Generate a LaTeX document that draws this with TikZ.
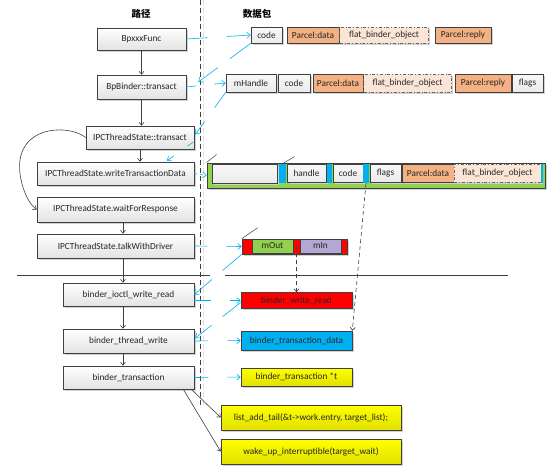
\documentclass[tikz,border=0pt]{standalone}
\usepackage{fontspec}
\setmainfont{Carlito}
\newfontfamily\cjkfont{Noto Sans CJK SC}
\usepackage{xcolor}
\usetikzlibrary{arrows.meta, positioning, calc, shadows}
\definecolor{linkcyan}{RGB}{0,176,240}
\definecolor{parcelor}{RGB}{244,177,131}
\definecolor{fbopeach}{RGB}{251,229,214}
\definecolor{limegr}{RGB}{146,208,80}
\definecolor{minpurp}{RGB}{180,167,214}
\definecolor{edge}{RGB}{64,64,64}

\begin{document}
\begin{tikzpicture}[x=1pt, y=-1pt,
  plain/.style={rectangle, draw=edge, line width=0.6pt, inner sep=0pt,
    font=\fontsize{9.3}{10}\selectfont, text=black!85},
  base/.style={plain, drop shadow={shadow xshift=1.5pt, shadow yshift=-1.5pt,
    fill=black!18, opacity=1}},
  fn/.style={base, top color=white, bottom color=gray!22},
  pk/.style={base, top color=gray!5, bottom color=gray!16},
  parcel/.style={base, fill=parcelor},
  fbo/.style={base, fill=fbopeach, draw=edge!80, dash dot},
  slot/.style={plain, draw=none, fill=linkcyan},
  call/.style={base, top color=yellow, bottom color=yellow!88!black},
  redbox/.style={base, fill=red},
  bluebox/.style={base, fill=linkcyan},
  ttl/.style={font=\cjkfont\bfseries\fontsize{9.5}{10}\selectfont},
  arr/.style={-{Straight Barb[length=3pt, width=5pt]}, edge, line width=0.6pt},
  darr/.style={arr, dash pattern=on 4pt off 3pt},
  flow/.style={-{Straight Barb[length=3.5pt, width=6pt]}, linkcyan, line width=0.6pt},
  tick/.style={edge, line width=0.5pt},
]
\fill[white] (0,0) rectangle (553,469);
\useasboundingbox (0,0) rectangle (553,469);
% ====== TITLES AND DIVIDERS ======
\node[ttl] (t_path) at (141,14) {路径};
\node[ttl] (t_pkg) at (257,14) {数据包};
\draw[gray!25, line width=0.8pt, dash pattern=on 5pt off 3pt] (203,0) -- (203,407);
\draw[edge, line width=0.7pt, dash pattern=on 5pt off 3pt] (200,0) -- (200,407);
\draw[edge, line width=0.7pt] (17,275) -- (210,275);
\draw[edge, line width=0.7pt] (225,275) -- (508,275);
%
% ====== CALL PATH (left) ======
\node[fn, minimum width=89, minimum height=22] (l_bpx) at (141.5,39) {BpxxxFunc};
\node[fn, minimum width=89, minimum height=24] (l_bpb) at (141.5,87) {BpBinder::transact};
\node[fn, minimum width=108, minimum height=23] (l_ipct) at (140,137.5) {IPCThreadState::transact};
\node[fn, minimum width=157, minimum height=23] (l_wtd) at (115.5,173.5) {IPCThreadState.writeTransactionData};
\node[fn, minimum width=157, minimum height=25] (l_wfr) at (115.5,209.5) {IPCThreadState.waitForResponse};
\node[fn, minimum width=157, minimum height=24] (l_twd) at (115.5,246) {IPCThreadState.talkWithDriver};
\node[fn, minimum width=131, minimum height=23] (l_ioctl) at (128.5,294.5) {binder\_ioctl\_write\_read};
\node[fn, minimum width=131, minimum height=24] (l_thw) at (128.5,341) {binder\_thread\_write};
\node[fn, minimum width=131, minimum height=23] (l_btr) at (128.5,377.5) {binder\_transaction};
\node[call, minimum width=180, minimum height=25] (l_lat) at (311,417.5)
  {list\_add\_tail(\&t->work.entry, target\_list);};
\node[call, minimum width=180, minimum height=25] (l_wui) at (311,451.5)
  {wake\_up\_interruptible(target\_wait)};
\draw[arr] (l_bpx) -- (l_bpb);
\draw[arr] (l_bpb.south) -- (l_bpb.south |- l_ipct.north);
\draw[arr] (l_ipct.south) -- (l_ipct.south |- l_wtd.north);
\draw[arr] (l_ipct.west) .. controls (70,125) and (25,125) .. (20,160)
  .. controls (17.5,177) and (26,202) .. (l_wfr.west);
\draw[arr] ([xshift=7.5pt]l_wfr.south) -- ([xshift=7.5pt]l_twd.north);
\draw[arr] ([xshift=7.5pt]l_twd.south) -- ([xshift=7.5pt]l_twd.south |- l_ioctl.north);
\draw[arr] ([xshift=-5.5pt]l_ioctl.south) -- ([xshift=-5.5pt]l_thw.north);
\draw[arr] ([xshift=-5.5pt]l_thw.south) -- ([xshift=-5.5pt]l_btr.north);
\draw[arr] ([xshift=-3pt]l_btr.south east) -- (l_lat.west);
\draw[arr] ([xshift=-11pt]l_btr.south east) -- (l_wui.west);
%
% ====== PACKETS (right) ======
\node[pk, minimum width=31, minimum height=16] (p1_code) at (266.5,35) {code};
\node[parcel, minimum width=52, minimum height=16] (p1_data) at (313,35) {Parcel:data};
\node[fbo, minimum width=89, minimum height=16, right=0pt of p1_data] (p1_fbo) {flat\_binder\_object};
\node[parcel, minimum width=56, minimum height=16] (p1_reply) at (463,35) {Parcel:reply};
%
\node[pk, minimum width=50, minimum height=18] (p2_hdl) at (251,83) {mHandle};
\node[pk, minimum width=32, minimum height=18] (p2_code) at (294,83) {code};
\node[parcel, minimum width=50, minimum height=18] (p2_data) at (338,83) {Parcel:data};
\node[fbo, minimum width=88, minimum height=18, right=0pt of p2_data] (p2_fbo) {flat\_binder\_object};
\node[parcel, minimum width=56, minimum height=18] (p2_reply) at (483,83) {Parcel:reply};
\node[pk, minimum width=31, minimum height=18] (p2_flags) at (527.5,83) {flags};
%
% green transaction bar
\node[base, fill=limegr, line width=0.9pt, minimum width=338, minimum height=25] (g_bar) at (376,175.5) {};
\node[pk, minimum width=65, minimum height=19] (g_blank) at (244.5,173.5) {};
\node[slot, minimum width=7, minimum height=19] (g_s1) at (282.5,173.5) {};
\node[pk, minimum width=39, minimum height=18] (g_hdl) at (306.5,173) {handle};
\node[slot, minimum width=5, minimum height=19] (g_s2) at (329.5,173.5) {};
\node[pk, minimum width=30, minimum height=18] (g_code) at (348,173) {code};
\node[slot, minimum width=6, minimum height=19] (g_s3) at (366,173.5) {};
\node[pk, minimum width=31, minimum height=18] (g_flags) at (385.5,173) {flags};
\node[parcel, minimum width=52, minimum height=18] (g_data) at (428,173) {Parcel:data};
\node[fbo, minimum width=87, minimum height=18] (g_fbo) at (497.5,173) {flat\_binder\_object};
\node[slot, minimum width=2, minimum height=19] (g_s4) at (542,173.5) {};
\draw[tick] (g_bar.north west) -- ++(10,-8);
\draw[tick] (g_s1.north) -- ++(12,-7);
%
% mOut / mIn bar
\node[base, fill=red, minimum width=105, minimum height=15] (m_bar) at (294.5,246.5) {};
\node[plain, fill=limegr, minimum width=41, minimum height=14] (m_out) at (272.5,246) {mOut};
\node[plain, fill=minpurp, minimum width=41, minimum height=14] (m_in) at (320.5,246) {mIn};
\draw[tick] (m_bar.north west) -- ++(16,-11);
%
% ====== KERNEL STRUCTS ======
\node[redbox, minimum width=111, minimum height=16] (r_bwr) at (296.5,300.5) {binder\_write\_read};
\node[bluebox, minimum width=111, minimum height=19] (r_btd) at (296.5,340.5) {binder\_transaction\_data};
\node[call, minimum width=111, minimum height=18] (r_bt) at (296.5,377) {binder\_transaction *t};
\draw[darr] ($(m_out.east)!0.5!(m_in.west)$ |- m_bar.south) -- (r_bwr.north);
\draw[darr] (g_s3.south) -- (r_btd.north east);
%
% ====== DATA FLOW (cyan) ======
\draw[flow, dash pattern=on 21pt off 20pt on 60pt] (l_bpx.east) -- (p1_code.west);
\draw[flow, dash pattern=on 26pt off 15pt on 60pt] (p1_code.south west) -- ($(l_bpb.east)+(12,-5)$);
\draw[flow, dash pattern=on 10pt off 18pt on 60pt] (l_bpb.east) -- (p2_hdl.west);
\draw[flow, dash pattern=on 19pt off 17pt on 60pt] (p2_hdl.south west) -- ($(l_ipct.east)+(1,-3)$);
\draw[flow, dash pattern=on 7pt off 17pt on 60pt] ($(l_ipct.east)+(-1,4.5)$) -- ($(l_wtd.north)+(51.5,-1)$);
\draw[flow, dash pattern=on 3pt off 3pt] (l_wtd.east) -- (g_bar.west);
\draw[flow, dash pattern=on 13pt off 19pt on 60pt] (l_twd.east) -- (m_bar.west);
\draw[flow, dash pattern=on 25pt off 14pt on 60pt] (m_bar.south west) -- (l_ioctl.east);
\draw[flow, dash pattern=on 17pt off 19pt on 60pt] (l_ioctl.east |- r_bwr.west) -- (r_bwr.west);
\draw[flow, dash pattern=on 23pt off 14pt on 60pt] ($(r_bwr.west)+(0,2)$) -- ($(l_thw.east)+(1,-3)$);
\draw[flow, dash pattern=on 14pt off 19pt on 60pt] (l_thw.east) -- (r_btd.west);
\draw[flow, dash pattern=on 14pt off 19pt on 60pt] (l_btr.east) -- (r_bt.west);
\end{tikzpicture}
\end{document}
